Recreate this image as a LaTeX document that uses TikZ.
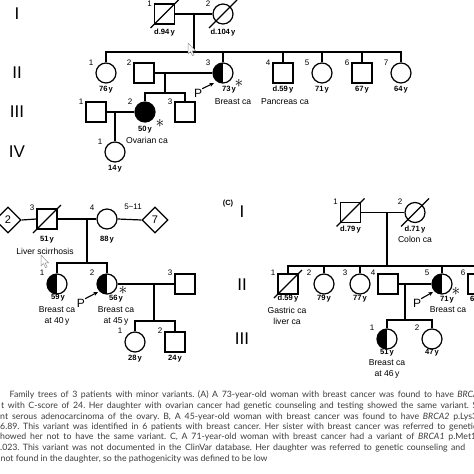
\documentclass[tikz,border=0pt]{standalone}
\usepackage{fontspec}
\setmainfont{Liberation Sans}
\newfontfamily\capfont{Lato}
\usetikzlibrary{arrows.meta,shapes.geometric,positioning,calc}
\definecolor{captgray}{RGB}{60,60,60}
\definecolor{cursgray}{RGB}{150,150,150}
\tikzset{
  indiv/.style  ={draw, line width=1.2pt, minimum size=20pt, inner sep=0pt},
  male/.style   ={indiv, rectangle},
  female/.style ={indiv, circle},
  sexunk/.style ={indiv, diamond, minimum size=26pt, font=\fontsize{11}{11}\selectfont},
  affct/.style  ={fill=black},
  halfaff/.style={path picture={\fill[black] (path picture bounding box.south west)
                  rectangle (path picture bounding box.north);}},
  lnk/.style    ={line width=1.2pt},
  slash/.style  ={line width=1.1pt},
  idlab/.style  ={font=\fontsize{8}{9}\selectfont, inner sep=0pt},
  agelab/.style ={font=\bfseries\fontsize{7.6}{8}\selectfont, inner sep=0pt},
  dxlab/.style  ={font=\fontsize{8.6}{10.5}\selectfont, inner sep=0pt, align=center},
  genlab/.style ={font=\fontsize{17}{17}\selectfont, inner sep=0pt},
  pmark/.style  ={font=\fontsize{12}{12}\selectfont, inner sep=0pt},
  parr/.style   ={-{Stealth[length=4.5pt,width=4pt]}, line width=1.1pt},
  ast/.style    ={font=\fontsize{19}{19}\selectfont, inner sep=0pt},
  capline/.style={font=\capfont\fontsize{8.75}{10}\selectfont\frenchspacing, text=captgray,
                  inner sep=0pt, anchor=west},
  curs/.style   ={draw=cursgray, fill=white, line width=0.5pt, line join=round},
}
\newcommand\deadmark[1]{\draw[slash] ($(#1)+(-14,14)$) -- ($(#1)+(14,-14)$);}
\newcommand\mousecursor[1]{\draw[curs] (#1) -- ++(0,11) -- ++(2.5,-2.5) -- ++(2,4.2)
  -- ++(1.6,-0.8) -- ++(-2,-4) -- ++(3.5,0) -- cycle;}
\begin{document}
\begin{tikzpicture}[x=1pt,y=-1pt]
  \useasboundingbox (0,0) rectangle (474,474);
  \fill[white] (0,0) rectangle (474,474);

  %% (A)
  \foreach \g/\t/\y in {AI/I/14, AII/II/73, AIII/III/112, AIV/IV/152}
    \node[genlab] (gen\g) at (17,\y) {\t};
  \node[male]   (AI1) at (164.5,14) {};
  \node[female] (AI2) at (223,14) {};
  \node[female] (AII1) at (106,73) {};
  \node[male]   (AII2) at (144,73) {};
  \node[female, halfaff] (AII3) at (223,73) {};
  \node[male]   (AII4) at (283,73) {};
  \node[female] (AII5) at (322,73) {};
  \node[male]   (AII6) at (362,73) {};
  \node[female] (AII7) at (401,73) {};
  \node[male]   (AIII1) at (96,112) {};
  \node[female, affct] (AIII2) at (145,112) {};
  \node[male]   (AIII3) at (185,112) {};
  \node[female] (AIV1) at (115,152) {};
  \coordinate (mA1) at (194,14); \coordinate (dA1) at (194,52);
  \coordinate (mA2) at (165,73); \coordinate (dA2) at (165,93);
  \coordinate (mA3) at (115,112);
  \draw[lnk] (AI1.east) -- (AI2.west);
  \draw[lnk] (mA1) -- (dA1);
  \draw[lnk] (AII1.north) |- (dA1) -| (AII7.north);
  \foreach \k in {AII3,AII4,AII5,AII6} \draw[lnk] (\k.north) -- (\k.north |- dA1);
  \draw[lnk] (AII2.east) -- (AII3.west);
  \draw[lnk] (mA2) -- (dA2);
  \draw[lnk] (AIII2.north) |- (dA2) -| (AIII3.north);
  \draw[lnk] (AIII1.east) -- (AIII2.west);
  \draw[lnk] (mA3) -- (AIV1.north);
  \deadmark{AI1} \deadmark{AI2}
  \foreach \n/\t in {AI1/1,AI2/2,AII1/1,AII2/2,AII3/3,AII4/4,AII5/5,AII6/6,AII7/7,
                     AIII1/1,AIII2/2,AIII3/3,AIV1/1}
    \node[idlab] (id\n) at ($(\n)+(-15,-10)$) {\t};
  \foreach \n/\t in {AII1/76,AII5/71,AII6/67,AII7/64,AIV1/14}
    \node[agelab] (age\n) at ($(\n)+(0,17)$) {\t\,y};
  \node[agelab] (ageAI1) at ($(AI1)+(0,19)$) {d.94\,y};
  \node[agelab] (ageAI2) at ($(AI2)+(0,19)$) {d.104\,y};
  \node[agelab] (ageAII3) at ($(AII3)+(6,17)$) {73\,y};
  \node[agelab] (ageAII4) at ($(AII4)+(0,17)$) {d.59\,y};
  \node[agelab] (ageAIII2) at ($(AIII2)+(0,18)$) {50\,y};
  \node[dxlab] (dxAII3) at (233,102) {Breast ca};
  \node[dxlab] (dxAII4) at (285,102) {Pancreas ca};
  \node[dxlab] (dxAIII2) at (147,140) {Ovarian ca};
  \node[ast] (astAII3) at ($(AII3)+(16,10)$) {$\ast$};
  \node[ast] (astAIII2) at ($(AIII2)+(15,11)$) {$\ast$};
  \node[pmark] (pA) at ($(AII3)+(-25,20)$) {P};
  \draw[parr] (pA.north east) -- ($(AII3)+(-9,10)$);
  \mousecursor{188,43}

  %% (B)
  \node[sexunk] (BI2) at (8,220) {2};
  \node[male]   (BI3) at (47,219) {};
  \node[female] (BI4) at (107,219) {};
  \node[sexunk] (BI7) at (155,220) {7};
  \node[female, halfaff] (BII1) at (57,284) {};
  \node[female, halfaff] (BII2) at (107,284) {};
  \node[male]   (BII3) at (185,284) {};
  \node[female] (BIII1) at (135,342) {};
  \node[male]   (BIII2) at (175,342) {};
  \coordinate (mB1) at (87,219); \coordinate (dB1) at (87,263);
  \coordinate (mB2) at (154,284); \coordinate (dB2) at (154,321);
  \draw[lnk] (BI2.east) -- (BI3.west);
  \draw[lnk] (BI3.east) -- (BI4.west);
  \draw[lnk] (BI4.east) -- (BI7.west);
  \draw[lnk] (mB1) -- (dB1);
  \draw[lnk] (BII1.north) |- (dB1) -| (BII2.north);
  \draw[lnk] (BII2.east) -- (BII3.west);
  \draw[lnk] (mB2) -- (dB2);
  \draw[lnk] (BIII1.north) |- (dB2) -| (BIII2.north);
  \deadmark{BI3}
  \foreach \n/\t in {BI3/3,BI4/4,BII1/1,BII2/2,BII3/3,BIII1/1,BIII2/2}
    \node[idlab] (id\n) at ($(\n)+(-15,-11)$) {\t};
  \node[idlab] (idBI7) at (133,207) {5\textasciitilde 11};
  \node[agelab] (ageBI3) at ($(BI3)+(0,21)$) {51\,y};
  \node[agelab] (ageBI4) at ($(BI4)+(0,21)$) {88\,y};
  \node[dxlab] (dxBI3) at (45,251) {Liver scirrhosis};
  \node[agelab] (ageBII1) at ($(BII1)+(1,14)$) {59\,y};
  \node[agelab] (ageBII2) at ($(BII2)+(9,14.5)$) {56\,y};
  \node[dxlab] (dxBII1) at (57,316) {Breast ca\\at 40\,y};
  \node[dxlab] (dxBII2) at (116,316) {Breast ca\\at 45\,y};
  \node[agelab] (ageBIII1) at ($(BIII1)+(0,17)$) {28\,y};
  \node[agelab] (ageBIII2) at ($(BIII2)+(0,17)$) {24\,y};
  \node[ast] (astBII2) at ($(BII2)+(16,6)$) {$\ast$};
  \node[pmark] (pB) at ($(BII2)+(-26,19)$) {P};
  \draw[parr] (pB.north east) -- ($(BII2)+(-9,8)$);
  \mousecursor{41,255}

  %% (C)
  \node[font=\bfseries\fontsize{7.5}{8}\selectfont, inner sep=0pt] (labC) at (228,204) {(C)};
  \foreach \g/\t/\y in {CI/I/212, CII/II/285, CIII/III/339}
    \node[genlab] (gen\g) at (242,\y) {\t};
  \node[male]   (CI1) at (350.5,212.5) {};
  \node[female] (CI2) at (415,212.5) {};
  \node[male]   (CII1) at (288,284) {};
  \node[female] (CII2) at (324,284) {};
  \node[female] (CII3) at (360,284) {};
  \node[male]   (CII4) at (388,284) {};
  \node[female, halfaff] (CII5) at (442,284) {};
  \node[male]   (CII6) at (478,284) {};
  \node[female, halfaff] (CIII1) at (387,339) {};
  \node[female] (CIII2) at (432,339) {};
  \coordinate (mC1) at (387,212.5); \coordinate (dC1) at (387,266);
  \coordinate (mC2) at (405,284); \coordinate (dC2) at (405,320);
  \draw[lnk] (CI1.east) -- (CI2.west);
  \draw[lnk] (mC1) -- (dC1);
  \draw[lnk] (CII1.north) |- (dC1) -| (CII6.north);
  \foreach \k in {CII2,CII3,CII5} \draw[lnk] (\k.north) -- (\k.north |- dC1);
  \draw[lnk] (CII4.east) -- (CII5.west);
  \draw[lnk] (mC2) -- (dC2);
  \draw[lnk] (CIII1.north) |- (dC2) -| (CIII2.north);
  \deadmark{CI1} \deadmark{CI2} \deadmark{CII1}
  \foreach \n/\t in {CI1/1,CI2/2,CII1/1,CII2/2,CII3/3,CII4/4,CII5/5,CII6/6,CIII1/1,CIII2/2}
    \node[idlab] (id\n) at ($(\n)+(-15,-11)$) {\t};
  \node[agelab] (ageCI1) at ($(CI1)+(0,17)$) {d.79\,y};
  \node[agelab] (ageCI2) at ($(CI2)+(0,17)$) {d.71\,y};
  \node[dxlab] (dxCI2) at (415,239) {Colon ca};
  \node[agelab] (ageCII1) at ($(CII1)+(0,14.5)$) {d.59\,y};
  \node[dxlab] (dxCII1) at (287,316) {Gastric ca\\liver ca};
  \node[agelab] (ageCII2) at ($(CII2)+(0,14.5)$) {79\,y};
  \node[agelab] (ageCII3) at ($(CII3)+(0,14.5)$) {77\,y};
  \node[agelab] (ageCII5) at ($(CII5)+(5,15.5)$) {71\,y};
  \node[agelab, anchor=west] (ageCII6) at (470,299) {6};
  \node[dxlab] (dxCII5) at (448,310) {Breast ca};
  \node[agelab] (ageCIII1) at ($(CIII1)+(0,14)$) {51\,y};
  \node[dxlab] (dxCIII1) at (387,369) {Breast ca\\at 46\,y};
  \node[agelab] (ageCIII2) at ($(CIII2)+(0,14)$) {47\,y};
  \node[ast] (astCII5) at ($(CII5)+(14,7)$) {$\ast$};
  \node[pmark] (pC) at ($(CII5)+(-25,19)$) {P};
  \draw[parr] (pC.north east) -- ($(CII5)+(-9,8)$);

  %% caption (justified lines, cut by the page edge)
  \node[capline] (cap1) at (9.5,395) {\makebox[469pt][s]{Family trees of 3 patients with minor variants. (A) A 73-year-old woman with breast cancer was found to have \textit{BRCA}}};
  \node[capline] (cap2) at (1,406) {\makebox[476pt][s]{t with C-score of 24. Her daughter with ovarian cancer had genetic counseling and testing showed the same variant. S}};
  \node[capline] (cap3) at (0,417) {\makebox[477pt][s]{nt serous adenocarcinoma of the ovary. B, A 45-year-old woman with breast cancer was found to have \textit{BRCA2} p.Lys3}};
  \node[capline] (cap4) at (0,427) {\makebox[477pt][s]{6.89. This variant was identified in 6 patients with breast cancer. Her sister with breast cancer was referred to genetic}};
  \node[capline] (cap5) at (0,437) {\makebox[476pt][s]{howed her not to have the same variant. C, A 71-year-old woman with breast cancer had a variant of \textit{BRCA1} p.Met1}};
  \node[capline] (cap6) at (0,448) {\makebox[465pt][s]{.023. This variant was not documented in the ClinVar database. Her daughter was referred to genetic counseling and}};
  \node[capline] (cap7) at (0.5,459) {not found in the daughter, so the pathogenicity was defined to be low};
\end{tikzpicture}
\end{document}
